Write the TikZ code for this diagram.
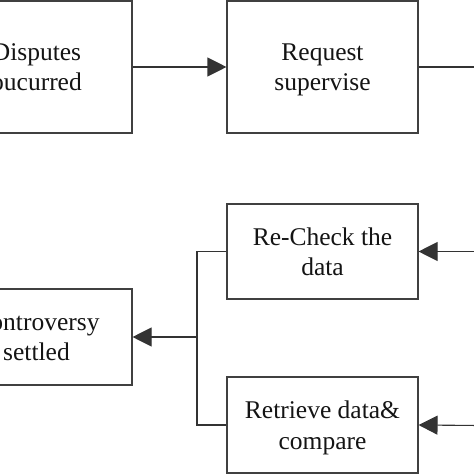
\documentclass[tikz,border=0pt]{standalone}
\usepackage{fontspec}
\setmainfont{Liberation Serif}
\usetikzlibrary{arrows.meta}
\begin{document}
\begin{tikzpicture}[x=1pt,y=-1pt,
  stepbox/.style={draw=black!75,line width=1.1pt,minimum width=191pt,inner sep=0pt,
    align=center,font=\fontsize{25.5}{30.5}\selectfont,text=black!92,text depth=0pt},
  conn/.style={draw=black!80,line width=1.1pt},
  arr/.style={conn,-{Triangle[length=19pt,width=19pt]}}]
\useasboundingbox (0,0) rectangle (474,474);
\clip (0,0) rectangle (474,474);
\node[stepbox,minimum height=132pt] (disp) at (36.5,67) {Disputes\\oucurred};
\node[stepbox,minimum height=132pt] (req) at (322.5,67) {Request\\supervise};
\node[stepbox,minimum height=95pt] (chk) at (322.5,251.5) {Re-Check the\\data};
\node[stepbox,minimum height=96pt] (ret) at (322.5,425) {Retrieve data\&\\compare};
\node[stepbox,minimum height=96pt] (con) at (36.5,337) {Controversy\\settled};
\coordinate (reqout) at (480,67);
\coordinate (chkin) at (480,251.5);
\coordinate (retin) at (480,425.5);
\coordinate (jn) at (197,337);
\draw[arr] (disp.east) -- (req.west);
\draw[conn] (req.east) -- (reqout);
\draw[arr] (chkin) -- (chk.east);
\draw[arr] (retin) -- (ret.east);
\draw[conn] (chk.west) -| (jn) |- (ret.west);
\draw[arr] (jn) -- (con.east);
\end{tikzpicture}
\end{document}
